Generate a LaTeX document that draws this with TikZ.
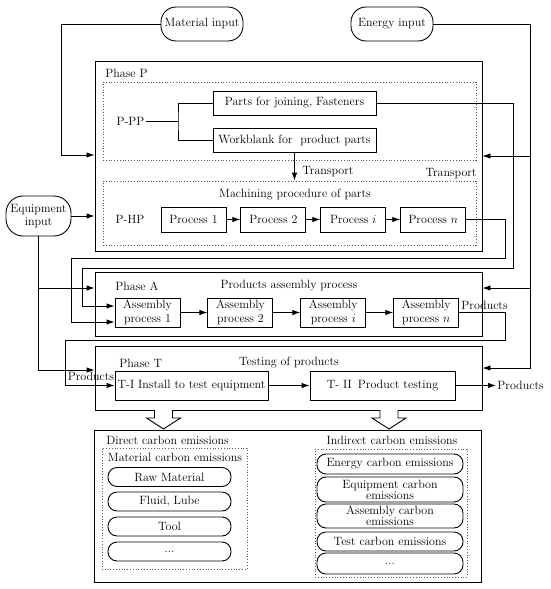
\documentclass[tikz,border=0pt]{standalone}
\usepackage{fontspec}
\usetikzlibrary{positioning,arrows.meta}
\begin{document}
\begin{tikzpicture}[x=1pt, y=-1pt, line width=0.9pt,
  font=\fontsize{12}{13.5}\selectfont,
  every node/.style={inner sep=1pt},
  frame/.style={draw, inner sep=0pt},
  dotbox/.style={draw, dotted, gray!70!black, line width=0.8pt, inner sep=0pt},
  box/.style={draw, minimum width=65pt, minimum height=25pt, align=center},
  pill/.style={draw, rounded corners=9pt, align=center},
  arr/.style={-{Latex[length=8pt,width=5.5pt]}}]
\useasboundingbox (0,0) rectangle (550,589);
% frames
\node[frame, minimum width=387pt, minimum height=190pt] (phP) at (288.5,156) {};
\node[dotbox, minimum width=373pt, minimum height=78pt] (pp) at (289.5,121) {};
\node[dotbox, minimum width=373pt, minimum height=64pt] (hp) at (289.5,213) {};
\node[frame, minimum width=387pt, minimum height=64pt] (phA) at (288.5,304) {};
\node[frame, minimum width=387pt, minimum height=64pt] (phT) at (288.5,378) {};
\node[frame, minimum width=387pt, minimum height=152pt] (emis) at (287.5,506) {};
\node[dotbox, minimum width=145pt, minimum height=121pt] (direct) at (174.5,508.5) {};
\node[dotbox, minimum width=152pt, minimum height=128pt] (indirect) at (391,513) {};
% inputs
\node[pill, rounded corners=15pt, minimum width=82pt, minimum height=34pt] (mat) at (202,24) {Material input};
\node[pill, rounded corners=15pt, minimum width=82pt, minimum height=34pt] (en) at (392,24) {Energy input};
\node[pill, rounded corners=17pt, minimum width=65pt, minimum height=40pt] (eq) at (38.5,216) {Equipment\\input};
% phase P
\node[anchor=west] (lblP) at (104,73) {Phase P};
\node (ppl) at (130.5,121) {P-PP};
\node[box, minimum width=163pt, minimum height=24pt] (parts) at (294.5,103) {Parts for joining, Fasteners};
\node[box, minimum width=163pt, minimum height=24pt] (work) at (294.5,140) {Workblank for\ \ product parts};
\node[anchor=west] (trans1) at (301,172) {Transport};
\node[anchor=east] (trans2) at (478,174) {Transport};
\node (mach) at (295,195) {Machining procedure of parts};
\node (hpl) at (130,219.5) {P-HP};
\node[box] (p1) at (193.5,219.5) {Process 1};
\node[box, right=14pt of p1] (p2) {Process 2};
\node[box, right=14pt of p2] (p3) {Process $i$};
\node[box, right=14pt of p3] (p4) {Process $n$};
% phase A
\node[anchor=west] (lblA) at (114,286) {Phase A};
\node (asm) at (289,286) {Products assembly process};
\node[box, minimum height=29pt] (a1) at (147.5,312.5) {Assembly\\process 1};
\node[box, minimum height=29pt, right=27pt of a1] (a2) {Assembly\\process 2};
\node[box, minimum height=29pt, right=27pt of a2] (a3) {Assembly\\process $i$};
\node[box, minimum height=29pt, right=27pt of a3] (a4) {Assembly\\process $n$};
\node[anchor=west] (prodA) at (460,305) {Products};
% phase T
\node[anchor=west] (lblT) at (118,363) {Phase T};
\node (test) at (289,363) {Testing of products};
\node (prodT) at (91,376) {Products};
\node[box, minimum width=153pt, minimum height=29pt] (t1) at (191.5,385.5) {T-I Install to test equipment};
\node[box, minimum width=145pt, minimum height=29pt] (t2) at (382.5,385.5) {T- II\enspace Product testing};
\node[anchor=west] (prodOut) at (496,385.5) {Products};
% emissions
\node[anchor=west] (dir) at (105,440) {Direct carbon emissions};
\node (matc) at (175,457) {Material carbon emissions};
\node (ind) at (392,440) {Indirect carbon emissions};
\node[pill, minimum width=123pt, minimum height=19pt] (raw) at (169.5,477) {Raw Material};
\node[pill, minimum width=123pt, minimum height=19pt] (fluid) at (169.5,501.5) {Fluid, Lube};
\node[pill, minimum width=123pt, minimum height=19pt] (tool) at (169.5,526.5) {Tool};
\node[pill, minimum width=123pt, minimum height=19pt] (more1) at (169.5,551.5) {...};
\node[pill, minimum width=146pt, minimum height=20pt] (ec) at (390,464) {Energy carbon emissions};
\node[pill, minimum width=146pt, minimum height=25pt, font=\fontsize{12}{11}\selectfont] (qc) at (390,489.5) {Equipment carbon\\emissions};
\node[pill, minimum width=146pt, minimum height=24pt, font=\fontsize{12}{11}\selectfont] (ac) at (390,516) {Assembly carbon\\emissions};
\node[pill, minimum width=146pt, minimum height=19pt] (tc) at (390,541.5) {Test carbon emissions};
\node[pill, minimum width=146pt, minimum height=21pt] (more2) at (390,563.5) {...};
% inputs to phases
\draw[arr] (mat.west) -| (61,155) -- (phP.west |- 0,155);
\draw[arr] (en.east) -| (530,368) -- (phT.east |- 0,368);
\draw[arr] (530,156) -- (phP.east |- 0,156);
\draw[arr] (530,288) -- (phA.east |- 0,288);
\draw[arr] (eq.east) -- (phP.west |- eq.east);
\draw[arr] (eq.south) |- (phT.west |- 0,370);
\draw[arr] (eq.south |- 0,288) -- (phA.west |- 0,288);
% phase P
\draw (ppl.east) -- (178,121);
\draw (parts.west) -| (178,121) |- (work.west);
\draw[arr] (work.south) -- (work.south |- hp.north);
\draw[arr] (p1) -- (p2);
\draw[arr] (p2) -- (p3);
\draw[arr] (p3) -- (p4);
% to phase A
\draw[arr] (p4.east) -| (505,258) -| ([xshift=-43pt,yshift=-9.5pt]a1.west) -- ([yshift=-9.5pt]a1.west);
\draw[arr] (parts.east) -| (513,268) -| ([xshift=-32pt,yshift=6.5pt]a1.west) -- ([yshift=6.5pt]a1.west);
\draw[arr] (a1) -- (a2);
\draw[arr] (a2) -- (a3);
\draw[arr] (a3) -- (a4);
% to phase T
\draw[arr] (a4.east) -| (505,340) -| ([xshift=-49pt]t1.west) -- (t1.west);
\draw[arr] (t1) -- (t2);
\draw[arr] (t2) -- (prodOut);
% to emissions
\foreach \c in {163.5,389}
  \draw[fill=white] ({\c-9},410) -- ({\c-9},418) -- ({\c-17},418) -- (\c,429) -- ({\c+17},418) -- ({\c+9},418) -- ({\c+9},410);
\end{tikzpicture}
\end{document}
